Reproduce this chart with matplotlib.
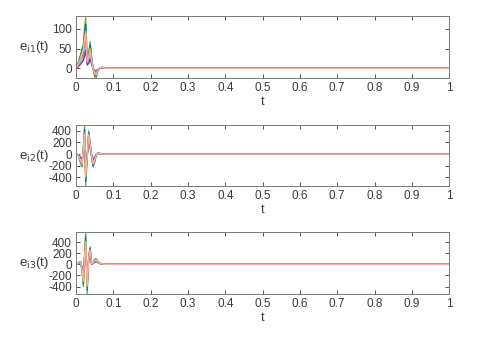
import numpy as np
import matplotlib
matplotlib.use("Agg")
import matplotlib.pyplot as plt

plt.rcParams['font.family'] = ['Liberation Sans', 'DejaVu Sans']
plt.rcParams['axes.unicode_minus'] = False

# time grid (s)
t = [0, 0.006, 0.012, 0.016, 0.02, 0.023, 0.026, 0.03, 0.034, 0.038,
     0.042, 0.046, 0.05, 0.054, 0.058, 0.064, 0.07, 0.08, 0.1, 1.0]

# error e_i1(t), one row per agent
e1 = [
    [0, 15, 35, 50, 62, 105, 130, 25, 40, 68, 30, 0, -22, -25, -10, 1, 3, 0, 0, 0],
    [0, 12, 30, 45, 55, 90, 112, 20, 35, 60, 25, -2, -18, -20, -8, 1, 2, 0, 0, 0],
    [0, 10, 26, 38, 48, 75, 95, 18, 30, 50, 20, -2, -15, -17, -6, 1, 2, 0, 0, 0],
    [0, 8, 20, 30, 38, 60, 78, 14, 24, 42, 16, -1, -12, -14, -5, 0, 1, 0, 0, 0],
    [0, 6, 15, 22, 28, 45, 60, 10, 18, 32, 12, -1, -9, -10, -4, 0, 1, 0, 0, 0],
    [0, 4, 10, 15, 20, 32, 45, 8, 12, 24, 8, 0, -6, -7, -3, 0, 1, 0, 0, 0],
    [0, 9, 22, 35, 45, 70, 88, 16, 28, 46, 18, -1, -14, -16, -6, 1, 2, 0, 0, 0],
]

# error e_i2(t)
e2 = [
    [0, -30, -150, -220, 150, 500, -550, -80, 400, 200, -80, -200, -150, -40, 20, 15, 3, 0, 0, 0],
    [0, -25, -130, -200, 120, 430, -480, -60, 370, 180, -60, -220, -130, -30, 18, 12, 2, 0, 0, 0],
    [0, -20, -110, -180, 100, 360, -400, -50, 340, 160, -40, -180, -110, -25, 15, 10, 2, 0, 0, 0],
    [0, -15, -90, -150, 80, 300, -330, -40, 300, 140, -30, -150, -90, -20, 12, 8, 1, 0, 0, 0],
    [0, -10, -70, -120, 60, 240, -270, -30, 260, 120, -20, -120, -70, -15, 10, 6, 1, 0, 0, 0],
    [0, -8, -50, -90, 40, 180, -200, -20, 220, 100, -10, -100, -50, -10, 8, 5, 1, 0, 0, 0],
    [0, -18, -100, -160, 90, 330, -370, -45, 320, 150, -35, -160, -100, -22, 14, 9, 2, 0, 0, 0],
]

# error e_i3(t)
e3 = [
    [0, 25, 55, -110, -400, 200, 585, -535, 150, 320, 20, 40, 90, 105, 60, 25, 10, 2, 0, 0],
    [0, 22, 50, -95, -360, 170, 500, -470, 130, 290, 15, 35, 80, 95, 55, 22, 9, 2, 0, 0],
    [0, 20, 45, -80, -310, 140, 420, -400, 110, 260, 10, 30, 70, 85, 50, 20, 8, 1, 0, 0],
    [0, 17, 40, -65, -260, 110, 340, -330, 90, 230, 8, 25, 60, 75, 45, 18, 7, 1, 0, 0],
    [0, 14, 35, -50, -210, 80, 260, -260, 70, 200, 5, 20, 50, 65, 40, 15, 6, 1, 0, 0],
    [0, 10, 28, -35, -160, 50, 180, -190, 50, 170, 3, 15, 40, 55, 35, 12, 5, 1, 0, 0],
    [0, 18, 42, -75, -290, 125, 380, -370, 100, 250, 9, 28, 65, 80, 48, 19, 8, 1, 0, 0],
]

colors = ['#77AC30', '#0072BD', '#EDB120', '#A2142F', '#4DBEEE', '#7E2F8E', '#D95319']
last_color = '#F4B49C'

labels = [r'e$_{\rm i1}$(t)', r'e$_{\rm i2}$(t)', r'e$_{\rm i3}$(t)']
ylims = [(-25, 133), (-550, 500), (-535, 585)]
yticks = [[0, 50, 100], [-400, -200, 0, 200, 400], [-400, -200, 0, 200, 400]]
xticks = [0, 0.1, 0.2, 0.3, 0.4, 0.5, 0.6, 0.7, 0.8, 0.9, 1]
xticklabels = ['0', '0.1', '0.2', '0.3', '0.4', '0.5', '0.6', '0.7', '0.8', '0.9', '1']

fig = plt.figure(figsize=(4.84, 3.37), dpi=100)
boxes = [[0.157, 0.7685, 0.771, 0.184],
         [0.157, 0.448, 0.771, 0.181],
         [0.157, 0.1276, 0.771, 0.184]]

for k, data in enumerate([e1, e2, e3]):
    ax = fig.add_axes(boxes[k])
    for j, row in enumerate(data):
        if j == len(data) - 1:
            ax.plot(t, row, color=last_color, lw=1.1)
        else:
            ax.plot(t, row, color=colors[j % len(colors)], lw=0.9)
    ax.set_xlim(0, 1)
    ax.set_ylim(*ylims[k])
    ax.set_xticks(xticks)
    ax.set_xticklabels(xticklabels)
    ax.set_yticks(yticks[k])
    ax.tick_params(direction='in', length=3, width=0.6, top=True, right=True,
                   labelsize=8.5, colors='#3a3a3a', pad=3)
    for s in ax.spines.values():
        s.set_color('#7a7a7a')
        s.set_linewidth(0.7)
    ax.set_xlabel('t', fontsize=9, labelpad=1, color='#3a3a3a')
    ax.set_ylabel(labels[k], fontsize=9.5, rotation=0, ha='right', va='center',
                  color='#3a3a3a')
    ax.yaxis.set_label_coords(-0.072, 0.5)

fig.savefig('out.png', dpi=100)
